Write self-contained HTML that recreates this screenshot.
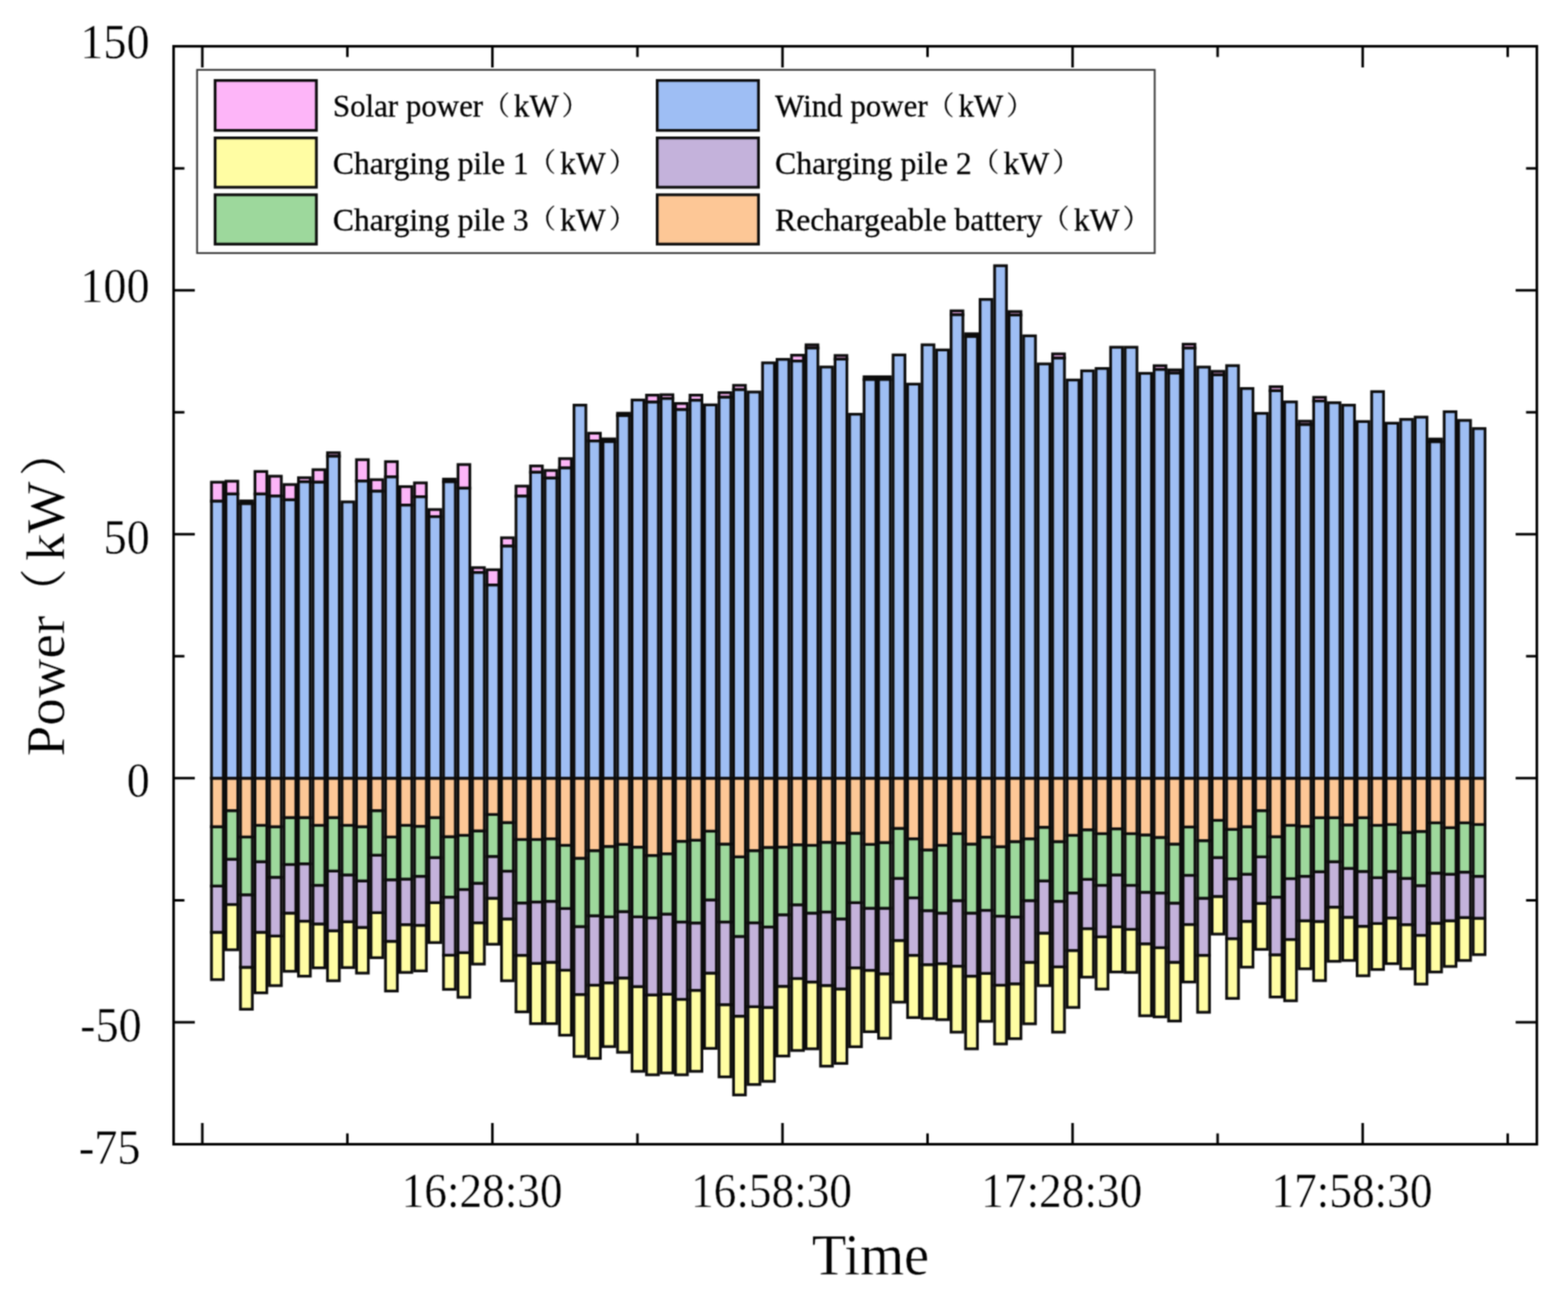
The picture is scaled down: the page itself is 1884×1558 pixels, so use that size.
<!DOCTYPE html>
<html lang="en"><head><meta charset="utf-8"><title>Power chart</title>
<style>html,body{margin:0;padding:0;background:#fff;}body{width:1884px;height:1558px;overflow:hidden;}svg{display:block;}text{font-family:"Liberation Serif","Noto Serif CJK SC",serif;fill:#000;stroke:#fff;stroke-width:0.40px;paint-order:fill stroke;}.tk{font-size:55.5px;}.ti{font-size:66px;}.lg{font-size:37px;stroke:#000;stroke-width:0.30px;}.pn{stroke:#000;stroke-width:0.25px;}.b rect{stroke:#0c0c0c;stroke-width:3.30;}.pk{fill:#fdb5f8}.bl{fill:#9ebef4}.og{fill:#fdc796}.gr{fill:#9dd89c}.pu{fill:#c4b2db}.ye{fill:#fffda3}</style></head><body>
<svg width="1884" height="1558" viewBox="0 0 1884 1558">
<defs><filter id="soft" x="0" y="0" width="1884" height="1558" filterUnits="userSpaceOnUse" color-interpolation-filters="sRGB"><feConvolveMatrix order="5" kernelMatrix="0.00023 0.00332 0.00809 0.00332 0.00023 0.00332 0.04785 0.11640 0.04785 0.00332 0.00809 0.11640 0.28313 0.11640 0.00809 0.00332 0.04785 0.11640 0.04785 0.00332 0.00023 0.00332 0.00809 0.00332 0.00023" divisor="1" edgeMode="duplicate" preserveAlpha="true"/></filter></defs>
<g filter="url(#soft)">
<rect x="0" y="0" width="1884" height="1558" fill="#fff"/>
<g class="b">
<rect class="ye" x="254.07" y="1119.87" width="14.25" height="56.92"/>
<rect class="pu" x="254.07" y="1064.31" width="14.25" height="55.56"/>
<rect class="gr" x="254.07" y="993.07" width="14.25" height="71.24"/>
<rect class="og" x="254.07" y="934.80" width="14.25" height="58.27"/>
<rect class="pk" x="254.07" y="579.21" width="14.25" height="22.88"/>
<rect class="bl" x="254.07" y="602.09" width="14.25" height="332.71"/>
<rect class="ye" x="271.50" y="1086.50" width="14.25" height="54.42"/>
<rect class="pu" x="271.50" y="1032.11" width="14.25" height="54.39"/>
<rect class="gr" x="271.50" y="973.71" width="14.25" height="58.40"/>
<rect class="og" x="271.50" y="934.80" width="14.25" height="38.91"/>
<rect class="pk" x="271.50" y="578.04" width="14.25" height="15.37"/>
<rect class="bl" x="271.50" y="593.41" width="14.25" height="341.39"/>
<rect class="ye" x="288.93" y="1161.91" width="14.25" height="50.41"/>
<rect class="pu" x="288.93" y="1074.82" width="14.25" height="87.09"/>
<rect class="gr" x="288.93" y="1005.41" width="14.25" height="69.41"/>
<rect class="og" x="288.93" y="934.80" width="14.25" height="70.61"/>
<rect class="pk" x="288.93" y="601.74" width="14.25" height="3.30"/>
<rect class="bl" x="288.93" y="605.04" width="14.25" height="329.76"/>
<rect class="ye" x="306.35" y="1119.87" width="14.25" height="72.77"/>
<rect class="pu" x="306.35" y="1035.11" width="14.25" height="84.76"/>
<rect class="gr" x="306.35" y="991.40" width="14.25" height="43.71"/>
<rect class="og" x="306.35" y="934.80" width="14.25" height="56.60"/>
<rect class="pk" x="306.35" y="566.36" width="14.25" height="27.05"/>
<rect class="bl" x="306.35" y="593.41" width="14.25" height="341.39"/>
<rect class="ye" x="323.77" y="1124.37" width="14.25" height="59.59"/>
<rect class="pu" x="323.77" y="1053.80" width="14.25" height="70.57"/>
<rect class="gr" x="323.77" y="993.07" width="14.25" height="60.73"/>
<rect class="og" x="323.77" y="934.80" width="14.25" height="58.27"/>
<rect class="pk" x="323.77" y="572.04" width="14.25" height="23.88"/>
<rect class="bl" x="323.77" y="595.91" width="14.25" height="338.89"/>
<rect class="ye" x="341.20" y="1096.84" width="14.25" height="69.93"/>
<rect class="pu" x="341.20" y="1038.45" width="14.25" height="58.40"/>
<rect class="gr" x="341.20" y="982.06" width="14.25" height="56.39"/>
<rect class="og" x="341.20" y="934.80" width="14.25" height="47.26"/>
<rect class="pk" x="341.20" y="582.05" width="14.25" height="18.37"/>
<rect class="bl" x="341.20" y="600.42" width="14.25" height="334.38"/>
<rect class="ye" x="358.62" y="1106.52" width="14.25" height="66.10"/>
<rect class="pu" x="358.62" y="1037.61" width="14.25" height="68.91"/>
<rect class="gr" x="358.62" y="982.06" width="14.25" height="55.56"/>
<rect class="og" x="358.62" y="934.80" width="14.25" height="47.26"/>
<rect class="pk" x="358.62" y="573.87" width="14.25" height="4.86"/>
<rect class="bl" x="358.62" y="578.73" width="14.25" height="356.07"/>
<rect class="ye" x="376.05" y="1109.86" width="14.25" height="52.75"/>
<rect class="pu" x="376.05" y="1063.48" width="14.25" height="46.38"/>
<rect class="gr" x="376.05" y="991.40" width="14.25" height="72.08"/>
<rect class="og" x="376.05" y="934.80" width="14.25" height="56.60"/>
<rect class="pk" x="376.05" y="564.20" width="14.25" height="15.03"/>
<rect class="bl" x="376.05" y="579.23" width="14.25" height="355.57"/>
<rect class="ye" x="393.48" y="1118.03" width="14.25" height="60.09"/>
<rect class="pu" x="393.48" y="1046.29" width="14.25" height="71.74"/>
<rect class="gr" x="393.48" y="982.06" width="14.25" height="64.23"/>
<rect class="og" x="393.48" y="934.80" width="14.25" height="47.26"/>
<rect class="pk" x="393.48" y="543.84" width="14.25" height="4.19"/>
<rect class="bl" x="393.48" y="548.03" width="14.25" height="386.77"/>
<rect class="ye" x="410.90" y="1107.19" width="14.25" height="55.08"/>
<rect class="pu" x="410.90" y="1050.96" width="14.25" height="56.23"/>
<rect class="gr" x="410.90" y="991.40" width="14.25" height="59.56"/>
<rect class="og" x="410.90" y="934.80" width="14.25" height="56.60"/>
<rect class="bl" x="410.90" y="602.90" width="14.25" height="331.90"/>
<rect class="ye" x="428.32" y="1114.03" width="14.25" height="54.92"/>
<rect class="pu" x="428.32" y="1058.14" width="14.25" height="55.89"/>
<rect class="gr" x="428.32" y="993.07" width="14.25" height="65.07"/>
<rect class="og" x="428.32" y="934.80" width="14.25" height="58.27"/>
<rect class="pk" x="428.32" y="552.18" width="14.25" height="25.71"/>
<rect class="bl" x="428.32" y="577.89" width="14.25" height="356.91"/>
<rect class="ye" x="445.75" y="1096.34" width="14.25" height="54.08"/>
<rect class="pu" x="445.75" y="1027.27" width="14.25" height="69.07"/>
<rect class="gr" x="445.75" y="973.71" width="14.25" height="53.56"/>
<rect class="og" x="445.75" y="934.80" width="14.25" height="38.91"/>
<rect class="pk" x="445.75" y="576.21" width="14.25" height="13.87"/>
<rect class="bl" x="445.75" y="590.07" width="14.25" height="344.73"/>
<rect class="ye" x="463.18" y="1130.71" width="14.25" height="59.76"/>
<rect class="pu" x="463.18" y="1056.80" width="14.25" height="73.91"/>
<rect class="gr" x="463.18" y="1005.41" width="14.25" height="51.39"/>
<rect class="og" x="463.18" y="934.80" width="14.25" height="70.61"/>
<rect class="pk" x="463.18" y="554.52" width="14.25" height="18.37"/>
<rect class="bl" x="463.18" y="572.89" width="14.25" height="361.91"/>
<rect class="ye" x="480.60" y="1110.69" width="14.25" height="57.42"/>
<rect class="pu" x="480.60" y="1055.97" width="14.25" height="54.72"/>
<rect class="gr" x="480.60" y="991.40" width="14.25" height="64.57"/>
<rect class="og" x="480.60" y="934.80" width="14.25" height="56.60"/>
<rect class="pk" x="480.60" y="584.55" width="14.25" height="22.21"/>
<rect class="bl" x="480.60" y="606.76" width="14.25" height="328.04"/>
<rect class="ye" x="498.02" y="1111.53" width="14.25" height="54.75"/>
<rect class="pu" x="498.02" y="1052.63" width="14.25" height="58.90"/>
<rect class="gr" x="498.02" y="992.57" width="14.25" height="60.06"/>
<rect class="og" x="498.02" y="934.80" width="14.25" height="57.77"/>
<rect class="pk" x="498.02" y="580.05" width="14.25" height="16.70"/>
<rect class="bl" x="498.02" y="596.75" width="14.25" height="338.05"/>
<rect class="ye" x="515.45" y="1084.33" width="14.25" height="47.91"/>
<rect class="pu" x="515.45" y="1030.11" width="14.25" height="54.22"/>
<rect class="gr" x="515.45" y="982.06" width="14.25" height="48.05"/>
<rect class="og" x="515.45" y="934.80" width="14.25" height="47.26"/>
<rect class="pk" x="515.45" y="612.08" width="14.25" height="8.53"/>
<rect class="bl" x="515.45" y="620.61" width="14.25" height="314.19"/>
<rect class="ye" x="532.88" y="1147.40" width="14.25" height="41.07"/>
<rect class="pu" x="532.88" y="1077.66" width="14.25" height="69.74"/>
<rect class="gr" x="532.88" y="1005.08" width="14.25" height="72.58"/>
<rect class="og" x="532.88" y="934.80" width="14.25" height="70.28"/>
<rect class="pk" x="532.88" y="575.54" width="14.25" height="3.19"/>
<rect class="bl" x="532.88" y="578.73" width="14.25" height="356.07"/>
<rect class="ye" x="550.30" y="1144.39" width="14.25" height="53.58"/>
<rect class="pu" x="550.30" y="1068.48" width="14.25" height="75.91"/>
<rect class="gr" x="550.30" y="1003.41" width="14.25" height="65.07"/>
<rect class="og" x="550.30" y="934.80" width="14.25" height="68.61"/>
<rect class="pk" x="550.30" y="558.02" width="14.25" height="28.38"/>
<rect class="bl" x="550.30" y="586.40" width="14.25" height="348.40"/>
<rect class="ye" x="567.73" y="1108.52" width="14.25" height="49.58"/>
<rect class="pu" x="567.73" y="1060.97" width="14.25" height="47.55"/>
<rect class="gr" x="567.73" y="998.07" width="14.25" height="62.90"/>
<rect class="og" x="567.73" y="934.80" width="14.25" height="63.27"/>
<rect class="pk" x="567.73" y="681.88" width="14.25" height="5.86"/>
<rect class="bl" x="567.73" y="687.74" width="14.25" height="247.06"/>
<rect class="ye" x="585.15" y="1078.99" width="14.25" height="55.25"/>
<rect class="pu" x="585.15" y="1028.77" width="14.25" height="50.22"/>
<rect class="gr" x="585.15" y="978.38" width="14.25" height="50.39"/>
<rect class="og" x="585.15" y="934.80" width="14.25" height="43.58"/>
<rect class="pk" x="585.15" y="684.39" width="14.25" height="18.37"/>
<rect class="bl" x="585.15" y="702.76" width="14.25" height="232.04"/>
<rect class="ye" x="602.58" y="1103.86" width="14.25" height="74.26"/>
<rect class="pu" x="602.58" y="1046.46" width="14.25" height="57.40"/>
<rect class="gr" x="602.58" y="988.06" width="14.25" height="58.40"/>
<rect class="og" x="602.58" y="934.80" width="14.25" height="53.26"/>
<rect class="pk" x="602.58" y="646.01" width="14.25" height="10.03"/>
<rect class="bl" x="602.58" y="656.04" width="14.25" height="278.76"/>
<rect class="ye" x="620.00" y="1147.57" width="14.25" height="67.92"/>
<rect class="pu" x="620.00" y="1084.66" width="14.25" height="62.91"/>
<rect class="gr" x="620.00" y="1008.42" width="14.25" height="76.25"/>
<rect class="og" x="620.00" y="934.80" width="14.25" height="73.62"/>
<rect class="pk" x="620.00" y="583.95" width="14.25" height="12.03"/>
<rect class="bl" x="620.00" y="595.98" width="14.25" height="338.82"/>
<rect class="ye" x="637.42" y="1157.25" width="14.25" height="72.43"/>
<rect class="pu" x="637.42" y="1083.50" width="14.25" height="73.75"/>
<rect class="gr" x="637.42" y="1008.42" width="14.25" height="75.08"/>
<rect class="og" x="637.42" y="934.80" width="14.25" height="73.62"/>
<rect class="pk" x="637.42" y="559.75" width="14.25" height="7.53"/>
<rect class="bl" x="637.42" y="567.28" width="14.25" height="367.52"/>
<rect class="ye" x="654.85" y="1155.91" width="14.25" height="73.76"/>
<rect class="pu" x="654.85" y="1082.66" width="14.25" height="73.25"/>
<rect class="gr" x="654.85" y="1007.58" width="14.25" height="75.08"/>
<rect class="og" x="654.85" y="934.80" width="14.25" height="72.78"/>
<rect class="pk" x="654.85" y="565.09" width="14.25" height="9.19"/>
<rect class="bl" x="654.85" y="574.29" width="14.25" height="360.51"/>
<rect class="ye" x="672.28" y="1165.42" width="14.25" height="78.10"/>
<rect class="pu" x="672.28" y="1091.34" width="14.25" height="74.09"/>
<rect class="gr" x="672.28" y="1015.42" width="14.25" height="75.91"/>
<rect class="og" x="672.28" y="934.80" width="14.25" height="80.62"/>
<rect class="pk" x="672.28" y="550.91" width="14.25" height="11.20"/>
<rect class="bl" x="672.28" y="562.11" width="14.25" height="372.69"/>
<rect class="ye" x="689.70" y="1194.62" width="14.25" height="74.43"/>
<rect class="pu" x="689.70" y="1113.04" width="14.25" height="81.59"/>
<rect class="gr" x="689.70" y="1030.94" width="14.25" height="82.09"/>
<rect class="og" x="689.70" y="934.80" width="14.25" height="96.14"/>
<rect class="bl" x="689.70" y="486.68" width="14.25" height="448.12"/>
<rect class="ye" x="707.12" y="1183.44" width="14.25" height="87.95"/>
<rect class="pu" x="707.12" y="1100.02" width="14.25" height="83.42"/>
<rect class="gr" x="707.12" y="1021.76" width="14.25" height="78.26"/>
<rect class="og" x="707.12" y="934.80" width="14.25" height="86.96"/>
<rect class="pk" x="707.12" y="520.38" width="14.25" height="9.36"/>
<rect class="bl" x="707.12" y="529.74" width="14.25" height="405.06"/>
<rect class="ye" x="724.55" y="1180.61" width="14.25" height="76.60"/>
<rect class="pu" x="724.55" y="1101.36" width="14.25" height="79.25"/>
<rect class="gr" x="724.55" y="1016.76" width="14.25" height="84.60"/>
<rect class="og" x="724.55" y="934.80" width="14.25" height="81.96"/>
<rect class="pk" x="724.55" y="527.22" width="14.25" height="3.30"/>
<rect class="bl" x="724.55" y="530.52" width="14.25" height="404.28"/>
<rect class="ye" x="741.98" y="1174.77" width="14.25" height="89.28"/>
<rect class="pu" x="741.98" y="1095.02" width="14.25" height="79.75"/>
<rect class="gr" x="741.98" y="1014.26" width="14.25" height="80.76"/>
<rect class="og" x="741.98" y="934.80" width="14.25" height="79.46"/>
<rect class="pk" x="741.98" y="496.35" width="14.25" height="2.85"/>
<rect class="bl" x="741.98" y="499.21" width="14.25" height="435.59"/>
<rect class="ye" x="759.40" y="1185.11" width="14.25" height="101.79"/>
<rect class="pu" x="759.40" y="1101.36" width="14.25" height="83.76"/>
<rect class="gr" x="759.40" y="1017.59" width="14.25" height="83.76"/>
<rect class="og" x="759.40" y="934.80" width="14.25" height="82.79"/>
<rect class="bl" x="759.40" y="480.50" width="14.25" height="454.30"/>
<rect class="ye" x="776.83" y="1195.12" width="14.25" height="95.95"/>
<rect class="pu" x="776.83" y="1102.52" width="14.25" height="92.60"/>
<rect class="gr" x="776.83" y="1027.60" width="14.25" height="74.92"/>
<rect class="og" x="776.83" y="934.80" width="14.25" height="92.80"/>
<rect class="pk" x="776.83" y="474.66" width="14.25" height="8.36"/>
<rect class="bl" x="776.83" y="483.02" width="14.25" height="451.78"/>
<rect class="ye" x="794.25" y="1194.29" width="14.25" height="94.62"/>
<rect class="pu" x="794.25" y="1098.02" width="14.25" height="96.27"/>
<rect class="gr" x="794.25" y="1025.60" width="14.25" height="72.42"/>
<rect class="og" x="794.25" y="934.80" width="14.25" height="90.80"/>
<rect class="pk" x="794.25" y="474.16" width="14.25" height="4.52"/>
<rect class="bl" x="794.25" y="478.69" width="14.25" height="456.11"/>
<rect class="ye" x="811.67" y="1200.46" width="14.25" height="90.61"/>
<rect class="pu" x="811.67" y="1107.53" width="14.25" height="92.93"/>
<rect class="gr" x="811.67" y="1010.59" width="14.25" height="96.94"/>
<rect class="og" x="811.67" y="934.80" width="14.25" height="75.79"/>
<rect class="pk" x="811.67" y="484.67" width="14.25" height="7.36"/>
<rect class="bl" x="811.67" y="492.03" width="14.25" height="442.77"/>
<rect class="ye" x="829.10" y="1189.62" width="14.25" height="97.29"/>
<rect class="pu" x="829.10" y="1108.70" width="14.25" height="80.92"/>
<rect class="gr" x="829.10" y="1009.25" width="14.25" height="99.45"/>
<rect class="og" x="829.10" y="934.80" width="14.25" height="74.45"/>
<rect class="pk" x="829.10" y="474.66" width="14.25" height="6.19"/>
<rect class="bl" x="829.10" y="480.86" width="14.25" height="453.94"/>
<rect class="ye" x="846.53" y="1168.93" width="14.25" height="90.45"/>
<rect class="pu" x="846.53" y="1080.99" width="14.25" height="87.93"/>
<rect class="gr" x="846.53" y="998.41" width="14.25" height="82.59"/>
<rect class="og" x="846.53" y="934.80" width="14.25" height="63.61"/>
<rect class="bl" x="846.53" y="486.34" width="14.25" height="448.46"/>
<rect class="ye" x="863.95" y="1206.80" width="14.25" height="86.78"/>
<rect class="pu" x="863.95" y="1107.53" width="14.25" height="99.27"/>
<rect class="gr" x="863.95" y="1013.92" width="14.25" height="93.61"/>
<rect class="og" x="863.95" y="934.80" width="14.25" height="79.12"/>
<rect class="pk" x="863.95" y="471.66" width="14.25" height="5.52"/>
<rect class="bl" x="863.95" y="477.18" width="14.25" height="457.62"/>
<rect class="ye" x="881.38" y="1220.65" width="14.25" height="94.62"/>
<rect class="pu" x="881.38" y="1124.87" width="14.25" height="95.78"/>
<rect class="gr" x="881.38" y="1029.27" width="14.25" height="95.60"/>
<rect class="og" x="881.38" y="934.80" width="14.25" height="94.47"/>
<rect class="pk" x="881.38" y="462.90" width="14.25" height="5.19"/>
<rect class="bl" x="881.38" y="468.09" width="14.25" height="466.71"/>
<rect class="ye" x="898.80" y="1209.30" width="14.25" height="93.45"/>
<rect class="pu" x="898.80" y="1108.52" width="14.25" height="100.78"/>
<rect class="gr" x="898.80" y="1021.76" width="14.25" height="86.76"/>
<rect class="og" x="898.80" y="934.80" width="14.25" height="86.96"/>
<rect class="bl" x="898.80" y="470.91" width="14.25" height="463.89"/>
<rect class="ye" x="916.22" y="1210.14" width="14.25" height="88.78"/>
<rect class="pu" x="916.22" y="1113.53" width="14.25" height="96.61"/>
<rect class="gr" x="916.22" y="1017.93" width="14.25" height="95.60"/>
<rect class="og" x="916.22" y="934.80" width="14.25" height="83.13"/>
<rect class="bl" x="916.22" y="435.87" width="14.25" height="498.93"/>
<rect class="ye" x="933.65" y="1184.78" width="14.25" height="83.77"/>
<rect class="pu" x="933.65" y="1098.85" width="14.25" height="85.93"/>
<rect class="gr" x="933.65" y="1017.59" width="14.25" height="81.25"/>
<rect class="og" x="933.65" y="934.80" width="14.25" height="82.79"/>
<rect class="bl" x="933.65" y="431.70" width="14.25" height="503.10"/>
<rect class="ye" x="951.08" y="1175.43" width="14.25" height="86.44"/>
<rect class="pu" x="951.08" y="1086.83" width="14.25" height="88.60"/>
<rect class="gr" x="951.08" y="1014.76" width="14.25" height="72.08"/>
<rect class="og" x="951.08" y="934.80" width="14.25" height="79.96"/>
<rect class="pk" x="951.08" y="426.70" width="14.25" height="7.03"/>
<rect class="bl" x="951.08" y="433.72" width="14.25" height="501.08"/>
<rect class="ye" x="968.50" y="1179.61" width="14.25" height="80.27"/>
<rect class="pu" x="968.50" y="1096.84" width="14.25" height="82.76"/>
<rect class="gr" x="968.50" y="1015.42" width="14.25" height="81.42"/>
<rect class="og" x="968.50" y="934.80" width="14.25" height="80.62"/>
<rect class="pk" x="968.50" y="414.18" width="14.25" height="3.86"/>
<rect class="bl" x="968.50" y="418.04" width="14.25" height="516.76"/>
<rect class="ye" x="985.92" y="1183.78" width="14.25" height="96.95"/>
<rect class="pu" x="985.92" y="1095.51" width="14.25" height="88.27"/>
<rect class="gr" x="985.92" y="1011.75" width="14.25" height="83.76"/>
<rect class="og" x="985.92" y="934.80" width="14.25" height="76.95"/>
<rect class="bl" x="985.92" y="440.88" width="14.25" height="493.92"/>
<rect class="ye" x="1003.35" y="1187.95" width="14.25" height="89.45"/>
<rect class="pu" x="1003.35" y="1103.85" width="14.25" height="84.10"/>
<rect class="gr" x="1003.35" y="1012.59" width="14.25" height="91.26"/>
<rect class="og" x="1003.35" y="934.80" width="14.25" height="77.79"/>
<rect class="pk" x="1003.35" y="427.03" width="14.25" height="4.36"/>
<rect class="bl" x="1003.35" y="431.39" width="14.25" height="503.41"/>
<rect class="ye" x="1020.78" y="1162.59" width="14.25" height="94.79"/>
<rect class="pu" x="1020.78" y="1084.33" width="14.25" height="78.26"/>
<rect class="gr" x="1020.78" y="1000.91" width="14.25" height="83.42"/>
<rect class="og" x="1020.78" y="934.80" width="14.25" height="66.11"/>
<rect class="bl" x="1020.78" y="497.61" width="14.25" height="437.19"/>
<rect class="ye" x="1038.20" y="1165.59" width="14.25" height="73.76"/>
<rect class="pu" x="1038.20" y="1091.00" width="14.25" height="74.59"/>
<rect class="gr" x="1038.20" y="1014.26" width="14.25" height="76.75"/>
<rect class="og" x="1038.20" y="934.80" width="14.25" height="79.46"/>
<rect class="pk" x="1038.20" y="452.56" width="14.25" height="3.36"/>
<rect class="bl" x="1038.20" y="455.91" width="14.25" height="478.89"/>
<rect class="ye" x="1055.62" y="1169.76" width="14.25" height="77.43"/>
<rect class="pu" x="1055.62" y="1091.00" width="14.25" height="78.76"/>
<rect class="gr" x="1055.62" y="1012.09" width="14.25" height="78.92"/>
<rect class="og" x="1055.62" y="934.80" width="14.25" height="77.29"/>
<rect class="pk" x="1055.62" y="452.56" width="14.25" height="3.30"/>
<rect class="bl" x="1055.62" y="455.86" width="14.25" height="478.94"/>
<rect class="ye" x="1073.05" y="1129.72" width="14.25" height="74.10"/>
<rect class="pu" x="1073.05" y="1055.13" width="14.25" height="74.59"/>
<rect class="gr" x="1073.05" y="995.07" width="14.25" height="60.06"/>
<rect class="og" x="1073.05" y="934.80" width="14.25" height="60.27"/>
<rect class="bl" x="1073.05" y="426.36" width="14.25" height="508.44"/>
<rect class="ye" x="1090.48" y="1147.57" width="14.25" height="74.76"/>
<rect class="pu" x="1090.48" y="1078.49" width="14.25" height="69.08"/>
<rect class="gr" x="1090.48" y="1007.58" width="14.25" height="70.91"/>
<rect class="og" x="1090.48" y="934.80" width="14.25" height="72.78"/>
<rect class="bl" x="1090.48" y="461.40" width="14.25" height="473.40"/>
<rect class="ye" x="1107.90" y="1158.75" width="14.25" height="64.75"/>
<rect class="pu" x="1107.90" y="1093.84" width="14.25" height="64.91"/>
<rect class="gr" x="1107.90" y="1020.93" width="14.25" height="72.91"/>
<rect class="og" x="1107.90" y="934.80" width="14.25" height="86.13"/>
<rect class="bl" x="1107.90" y="414.18" width="14.25" height="520.62"/>
<rect class="ye" x="1125.33" y="1157.58" width="14.25" height="67.26"/>
<rect class="pu" x="1125.33" y="1096.84" width="14.25" height="60.74"/>
<rect class="gr" x="1125.33" y="1015.42" width="14.25" height="81.42"/>
<rect class="og" x="1125.33" y="934.80" width="14.25" height="80.62"/>
<rect class="bl" x="1125.33" y="420.36" width="14.25" height="514.44"/>
<rect class="ye" x="1142.75" y="1160.59" width="14.25" height="79.27"/>
<rect class="pu" x="1142.75" y="1081.83" width="14.25" height="78.76"/>
<rect class="gr" x="1142.75" y="1001.41" width="14.25" height="80.42"/>
<rect class="og" x="1142.75" y="934.80" width="14.25" height="66.61"/>
<rect class="pk" x="1142.75" y="373.39" width="14.25" height="4.69"/>
<rect class="bl" x="1142.75" y="378.08" width="14.25" height="556.72"/>
<rect class="ye" x="1160.17" y="1172.60" width="14.25" height="87.28"/>
<rect class="pu" x="1160.17" y="1096.84" width="14.25" height="75.75"/>
<rect class="gr" x="1160.17" y="1013.92" width="14.25" height="82.92"/>
<rect class="og" x="1160.17" y="934.80" width="14.25" height="79.12"/>
<rect class="pk" x="1160.17" y="400.92" width="14.25" height="3.30"/>
<rect class="bl" x="1160.17" y="404.22" width="14.25" height="530.58"/>
<rect class="ye" x="1177.60" y="1169.26" width="14.25" height="57.58"/>
<rect class="pu" x="1177.60" y="1093.51" width="14.25" height="75.75"/>
<rect class="gr" x="1177.60" y="1005.58" width="14.25" height="87.93"/>
<rect class="og" x="1177.60" y="934.80" width="14.25" height="70.78"/>
<rect class="bl" x="1177.60" y="359.71" width="14.25" height="575.09"/>
<rect class="ye" x="1195.03" y="1183.44" width="14.25" height="70.59"/>
<rect class="pu" x="1195.03" y="1100.51" width="14.25" height="82.93"/>
<rect class="gr" x="1195.03" y="1017.09" width="14.25" height="83.42"/>
<rect class="og" x="1195.03" y="934.80" width="14.25" height="82.29"/>
<rect class="bl" x="1195.03" y="319.17" width="14.25" height="615.63"/>
<rect class="ye" x="1212.45" y="1181.77" width="14.25" height="65.92"/>
<rect class="pu" x="1212.45" y="1101.52" width="14.25" height="80.26"/>
<rect class="gr" x="1212.45" y="1010.92" width="14.25" height="90.60"/>
<rect class="og" x="1212.45" y="934.80" width="14.25" height="76.12"/>
<rect class="pk" x="1212.45" y="374.23" width="14.25" height="4.19"/>
<rect class="bl" x="1212.45" y="378.42" width="14.25" height="556.38"/>
<rect class="ye" x="1229.88" y="1155.91" width="14.25" height="73.93"/>
<rect class="pu" x="1229.88" y="1081.83" width="14.25" height="74.09"/>
<rect class="gr" x="1229.88" y="1007.58" width="14.25" height="74.25"/>
<rect class="og" x="1229.88" y="934.80" width="14.25" height="72.78"/>
<rect class="bl" x="1229.88" y="403.42" width="14.25" height="531.38"/>
<rect class="ye" x="1247.30" y="1120.88" width="14.25" height="63.09"/>
<rect class="pu" x="1247.30" y="1058.14" width="14.25" height="62.74"/>
<rect class="gr" x="1247.30" y="993.73" width="14.25" height="64.40"/>
<rect class="og" x="1247.30" y="934.80" width="14.25" height="58.93"/>
<rect class="bl" x="1247.30" y="437.13" width="14.25" height="497.67"/>
<rect class="ye" x="1264.73" y="1161.42" width="14.25" height="78.44"/>
<rect class="pu" x="1264.73" y="1082.66" width="14.25" height="78.76"/>
<rect class="gr" x="1264.73" y="1010.92" width="14.25" height="71.74"/>
<rect class="og" x="1264.73" y="934.80" width="14.25" height="76.12"/>
<rect class="pk" x="1264.73" y="425.11" width="14.25" height="5.02"/>
<rect class="bl" x="1264.73" y="430.14" width="14.25" height="504.66"/>
<rect class="ye" x="1282.15" y="1141.73" width="14.25" height="68.42"/>
<rect class="pu" x="1282.15" y="1072.65" width="14.25" height="69.08"/>
<rect class="gr" x="1282.15" y="1003.41" width="14.25" height="69.24"/>
<rect class="og" x="1282.15" y="934.80" width="14.25" height="68.61"/>
<rect class="bl" x="1282.15" y="456.48" width="14.25" height="478.32"/>
<rect class="ye" x="1299.58" y="1115.54" width="14.25" height="58.25"/>
<rect class="pu" x="1299.58" y="1056.30" width="14.25" height="59.24"/>
<rect class="gr" x="1299.58" y="996.74" width="14.25" height="59.56"/>
<rect class="og" x="1299.58" y="934.80" width="14.25" height="61.94"/>
<rect class="bl" x="1299.58" y="445.47" width="14.25" height="489.33"/>
<rect class="ye" x="1317.00" y="1125.38" width="14.25" height="62.75"/>
<rect class="pu" x="1317.00" y="1063.48" width="14.25" height="61.91"/>
<rect class="gr" x="1317.00" y="1001.41" width="14.25" height="62.07"/>
<rect class="og" x="1317.00" y="934.80" width="14.25" height="66.61"/>
<rect class="bl" x="1317.00" y="442.63" width="14.25" height="492.17"/>
<rect class="ye" x="1334.43" y="1113.37" width="14.25" height="54.24"/>
<rect class="pu" x="1334.43" y="1050.96" width="14.25" height="62.41"/>
<rect class="gr" x="1334.43" y="995.57" width="14.25" height="55.39"/>
<rect class="og" x="1334.43" y="934.80" width="14.25" height="60.77"/>
<rect class="bl" x="1334.43" y="417.11" width="14.25" height="517.69"/>
<rect class="ye" x="1351.85" y="1116.37" width="14.25" height="51.74"/>
<rect class="pu" x="1351.85" y="1063.48" width="14.25" height="52.90"/>
<rect class="gr" x="1351.85" y="1001.41" width="14.25" height="62.07"/>
<rect class="og" x="1351.85" y="934.80" width="14.25" height="66.61"/>
<rect class="bl" x="1351.85" y="417.11" width="14.25" height="517.69"/>
<rect class="ye" x="1369.28" y="1133.72" width="14.25" height="86.44"/>
<rect class="pu" x="1369.28" y="1071.82" width="14.25" height="61.91"/>
<rect class="gr" x="1369.28" y="1002.91" width="14.25" height="68.91"/>
<rect class="og" x="1369.28" y="934.80" width="14.25" height="68.11"/>
<rect class="bl" x="1369.28" y="448.47" width="14.25" height="486.33"/>
<rect class="ye" x="1386.70" y="1138.40" width="14.25" height="83.11"/>
<rect class="pu" x="1386.70" y="1072.65" width="14.25" height="65.74"/>
<rect class="gr" x="1386.70" y="1005.91" width="14.25" height="66.74"/>
<rect class="og" x="1386.70" y="934.80" width="14.25" height="71.11"/>
<rect class="pk" x="1386.70" y="439.30" width="14.25" height="4.52"/>
<rect class="bl" x="1386.70" y="443.82" width="14.25" height="490.98"/>
<rect class="ye" x="1404.12" y="1155.91" width="14.25" height="70.59"/>
<rect class="pu" x="1404.12" y="1084.83" width="14.25" height="71.08"/>
<rect class="gr" x="1404.12" y="1013.92" width="14.25" height="70.91"/>
<rect class="og" x="1404.12" y="934.80" width="14.25" height="79.12"/>
<rect class="pk" x="1404.12" y="444.30" width="14.25" height="3.86"/>
<rect class="bl" x="1404.12" y="448.16" width="14.25" height="486.64"/>
<rect class="ye" x="1421.55" y="1110.53" width="14.25" height="69.09"/>
<rect class="pu" x="1421.55" y="1051.46" width="14.25" height="59.07"/>
<rect class="gr" x="1421.55" y="993.40" width="14.25" height="58.06"/>
<rect class="og" x="1421.55" y="934.80" width="14.25" height="58.60"/>
<rect class="pk" x="1421.55" y="413.44" width="14.25" height="4.69"/>
<rect class="bl" x="1421.55" y="418.13" width="14.25" height="516.67"/>
<rect class="ye" x="1438.98" y="1147.57" width="14.25" height="68.42"/>
<rect class="pu" x="1438.98" y="1078.99" width="14.25" height="68.58"/>
<rect class="gr" x="1438.98" y="1009.75" width="14.25" height="69.24"/>
<rect class="og" x="1438.98" y="934.80" width="14.25" height="74.95"/>
<rect class="bl" x="1438.98" y="440.96" width="14.25" height="493.84"/>
<rect class="ye" x="1456.40" y="1076.82" width="14.25" height="45.24"/>
<rect class="pu" x="1456.40" y="1030.11" width="14.25" height="46.72"/>
<rect class="gr" x="1456.40" y="985.39" width="14.25" height="44.71"/>
<rect class="og" x="1456.40" y="934.80" width="14.25" height="50.59"/>
<rect class="pk" x="1456.40" y="446.07" width="14.25" height="4.24"/>
<rect class="bl" x="1456.40" y="450.31" width="14.25" height="484.49"/>
<rect class="ye" x="1473.83" y="1127.55" width="14.25" height="71.76"/>
<rect class="pu" x="1473.83" y="1055.63" width="14.25" height="71.92"/>
<rect class="gr" x="1473.83" y="996.24" width="14.25" height="59.40"/>
<rect class="og" x="1473.83" y="934.80" width="14.25" height="61.44"/>
<rect class="bl" x="1473.83" y="439.19" width="14.25" height="495.61"/>
<rect class="ye" x="1491.25" y="1106.70" width="14.25" height="55.08"/>
<rect class="pu" x="1491.25" y="1050.13" width="14.25" height="56.57"/>
<rect class="gr" x="1491.25" y="993.07" width="14.25" height="57.06"/>
<rect class="og" x="1491.25" y="934.80" width="14.25" height="58.27"/>
<rect class="bl" x="1491.25" y="466.69" width="14.25" height="468.11"/>
<rect class="ye" x="1508.68" y="1085.16" width="14.25" height="55.25"/>
<rect class="pu" x="1508.68" y="1029.27" width="14.25" height="55.89"/>
<rect class="gr" x="1508.68" y="973.71" width="14.25" height="55.56"/>
<rect class="og" x="1508.68" y="934.80" width="14.25" height="38.91"/>
<rect class="bl" x="1508.68" y="496.54" width="14.25" height="438.26"/>
<rect class="ye" x="1526.10" y="1146.90" width="14.25" height="50.75"/>
<rect class="pu" x="1526.10" y="1077.66" width="14.25" height="69.24"/>
<rect class="gr" x="1526.10" y="1005.08" width="14.25" height="72.58"/>
<rect class="og" x="1526.10" y="934.80" width="14.25" height="70.28"/>
<rect class="pk" x="1526.10" y="464.53" width="14.25" height="4.83"/>
<rect class="bl" x="1526.10" y="469.36" width="14.25" height="465.44"/>
<rect class="ye" x="1543.53" y="1128.54" width="14.25" height="73.60"/>
<rect class="pu" x="1543.53" y="1055.47" width="14.25" height="73.08"/>
<rect class="gr" x="1543.53" y="991.40" width="14.25" height="64.07"/>
<rect class="og" x="1543.53" y="934.80" width="14.25" height="56.60"/>
<rect class="bl" x="1543.53" y="482.79" width="14.25" height="452.01"/>
<rect class="ye" x="1560.95" y="1106.02" width="14.25" height="57.75"/>
<rect class="pu" x="1560.95" y="1052.63" width="14.25" height="53.39"/>
<rect class="gr" x="1560.95" y="992.57" width="14.25" height="60.06"/>
<rect class="og" x="1560.95" y="934.80" width="14.25" height="57.77"/>
<rect class="pk" x="1560.95" y="505.97" width="14.25" height="4.05"/>
<rect class="bl" x="1560.95" y="510.01" width="14.25" height="424.79"/>
<rect class="ye" x="1578.38" y="1106.85" width="14.25" height="71.10"/>
<rect class="pu" x="1578.38" y="1047.12" width="14.25" height="59.73"/>
<rect class="gr" x="1578.38" y="982.22" width="14.25" height="64.90"/>
<rect class="og" x="1578.38" y="934.80" width="14.25" height="47.42"/>
<rect class="pk" x="1578.38" y="477.29" width="14.25" height="4.44"/>
<rect class="bl" x="1578.38" y="481.73" width="14.25" height="453.07"/>
<rect class="ye" x="1595.80" y="1089.67" width="14.25" height="65.09"/>
<rect class="pu" x="1595.80" y="1035.11" width="14.25" height="54.56"/>
<rect class="gr" x="1595.80" y="982.22" width="14.25" height="52.89"/>
<rect class="og" x="1595.80" y="934.80" width="14.25" height="47.42"/>
<rect class="bl" x="1595.80" y="483.77" width="14.25" height="451.03"/>
<rect class="ye" x="1613.23" y="1101.85" width="14.25" height="51.91"/>
<rect class="pu" x="1613.23" y="1043.12" width="14.25" height="58.73"/>
<rect class="gr" x="1613.23" y="990.90" width="14.25" height="52.22"/>
<rect class="og" x="1613.23" y="934.80" width="14.25" height="56.10"/>
<rect class="bl" x="1613.23" y="486.72" width="14.25" height="448.08"/>
<rect class="ye" x="1630.65" y="1112.69" width="14.25" height="59.42"/>
<rect class="pu" x="1630.65" y="1046.79" width="14.25" height="65.90"/>
<rect class="gr" x="1630.65" y="982.22" width="14.25" height="64.57"/>
<rect class="og" x="1630.65" y="934.80" width="14.25" height="47.42"/>
<rect class="bl" x="1630.65" y="506.36" width="14.25" height="428.44"/>
<rect class="ye" x="1648.08" y="1109.36" width="14.25" height="55.25"/>
<rect class="pu" x="1648.08" y="1054.30" width="14.25" height="55.06"/>
<rect class="gr" x="1648.08" y="991.40" width="14.25" height="62.90"/>
<rect class="og" x="1648.08" y="934.80" width="14.25" height="56.60"/>
<rect class="bl" x="1648.08" y="470.42" width="14.25" height="464.38"/>
<rect class="ye" x="1665.50" y="1102.68" width="14.25" height="54.92"/>
<rect class="pu" x="1665.50" y="1046.79" width="14.25" height="55.89"/>
<rect class="gr" x="1665.50" y="990.40" width="14.25" height="56.39"/>
<rect class="og" x="1665.50" y="934.80" width="14.25" height="55.60"/>
<rect class="bl" x="1665.50" y="508.32" width="14.25" height="426.48"/>
<rect class="ye" x="1682.93" y="1110.69" width="14.25" height="53.08"/>
<rect class="pu" x="1682.93" y="1055.13" width="14.25" height="55.56"/>
<rect class="gr" x="1682.93" y="1000.07" width="14.25" height="55.06"/>
<rect class="og" x="1682.93" y="934.80" width="14.25" height="65.27"/>
<rect class="bl" x="1682.93" y="503.80" width="14.25" height="431.00"/>
<rect class="ye" x="1700.35" y="1123.54" width="14.25" height="58.59"/>
<rect class="pu" x="1700.35" y="1063.81" width="14.25" height="59.73"/>
<rect class="gr" x="1700.35" y="998.74" width="14.25" height="65.07"/>
<rect class="og" x="1700.35" y="934.80" width="14.25" height="63.94"/>
<rect class="bl" x="1700.35" y="501.06" width="14.25" height="433.74"/>
<rect class="ye" x="1717.78" y="1109.02" width="14.25" height="58.59"/>
<rect class="pu" x="1717.78" y="1048.79" width="14.25" height="60.23"/>
<rect class="gr" x="1717.78" y="988.40" width="14.25" height="60.40"/>
<rect class="og" x="1717.78" y="934.80" width="14.25" height="53.60"/>
<rect class="pk" x="1717.78" y="527.37" width="14.25" height="3.30"/>
<rect class="bl" x="1717.78" y="530.67" width="14.25" height="404.13"/>
<rect class="ye" x="1735.20" y="1106.02" width="14.25" height="54.92"/>
<rect class="pu" x="1735.20" y="1050.13" width="14.25" height="55.89"/>
<rect class="gr" x="1735.20" y="994.23" width="14.25" height="55.89"/>
<rect class="og" x="1735.20" y="934.80" width="14.25" height="59.43"/>
<rect class="bl" x="1735.20" y="494.57" width="14.25" height="440.23"/>
<rect class="ye" x="1752.62" y="1102.18" width="14.25" height="51.58"/>
<rect class="pu" x="1752.62" y="1047.62" width="14.25" height="54.56"/>
<rect class="gr" x="1752.62" y="988.40" width="14.25" height="59.23"/>
<rect class="og" x="1752.62" y="934.80" width="14.25" height="53.60"/>
<rect class="bl" x="1752.62" y="504.98" width="14.25" height="429.82"/>
<rect class="ye" x="1770.05" y="1103.02" width="14.25" height="43.74"/>
<rect class="pu" x="1770.05" y="1052.63" width="14.25" height="50.39"/>
<rect class="gr" x="1770.05" y="990.40" width="14.25" height="62.23"/>
<rect class="og" x="1770.05" y="934.80" width="14.25" height="55.60"/>
<rect class="bl" x="1770.05" y="514.80" width="14.25" height="420.00"/>
</g>
<g fill="none" stroke="#000" stroke-width="3.00">
<rect x="208.60" y="55.60" width="1638.00" height="1318.90" stroke-width="3.10"/>
<path d="M243.10 1374.50v-25.50M243.10 55.60v25.50M591.65 1374.50v-25.50M591.65 55.60v25.50M940.20 1374.50v-25.50M940.20 55.60v25.50M1288.75 1374.50v-25.50M1288.75 55.60v25.50M1637.30 1374.50v-25.50M1637.30 55.60v25.50M417.38 1374.50v-13.00M417.38 55.60v13.00M765.93 1374.50v-13.00M765.93 55.60v13.00M1114.47 1374.50v-13.00M1114.47 55.60v13.00M1463.02 1374.50v-13.00M1463.02 55.60v13.00M1811.58 1374.50v-13.00M1811.58 55.60v13.00M208.60 348.69h25.50M1846.60 348.69h-25.50M208.60 641.78h25.50M1846.60 641.78h-25.50M208.60 934.87h25.50M1846.60 934.87h-25.50M208.60 1227.96h25.50M1846.60 1227.96h-25.50M208.60 202.14h13.00M1846.60 202.14h-13.00M208.60 495.23h13.00M1846.60 495.23h-13.00M208.60 788.32h13.00M1846.60 788.32h-13.00M208.60 1081.41h13.00M1846.60 1081.41h-13.00"/>
</g>
<text class="tk" transform="translate(179.80 70.00) scale(1.0000 1.0500)" text-anchor="end">150</text>
<text class="tk" transform="translate(179.80 363.00) scale(1.0000 1.0500)" text-anchor="end">100</text>
<text class="tk" transform="translate(180.00 664.70) scale(1.0000 1.0500)" text-anchor="end">50</text>
<text class="tk" transform="translate(180.00 957.40) scale(1.0000 1.0500)" text-anchor="end">0</text>
<text class="tk" transform="translate(170.20 1251.20) scale(1.0000 1.0500)" text-anchor="end">-50</text>
<text class="tk" transform="translate(168.80 1398.30) scale(1.0000 1.0500)" text-anchor="end">-75</text>
<text class="tk" transform="translate(579.20 1449.90) scale(0.9800 1.0500)" text-anchor="middle">16:28:30</text>
<text class="tk" transform="translate(927.00 1449.90) scale(0.9800 1.0500)" text-anchor="middle">16:58:30</text>
<text class="tk" transform="translate(1275.70 1449.90) scale(0.9800 1.0500)" text-anchor="middle">17:28:30</text>
<text class="tk" transform="translate(1624.40 1449.90) scale(0.9800 1.0500)" text-anchor="middle">17:58:30</text>
<text class="ti" transform="translate(975.50 1531.10) scale(1.0280 1.0450)">Time</text>
<text class="ti" transform="translate(76.50 908.40) rotate(-90)">Power<tspan class="pn" font-size="56.76" dy="-3.63">（</tspan><tspan dx="9.24" dy="3.63">kW</tspan><tspan class="pn" font-size="56.76" dx="6.60" dy="-3.63">）</tspan></text>
<rect x="236.80" y="83.90" width="1150.60" height="220.10" fill="#fff" stroke="#3c3c3c" stroke-width="2.20"/>
<g class="b">
<rect class="pk" style="stroke-width:3.30" x="258.45" y="96.65" width="121.70" height="60.00"/>
<rect class="ye" style="stroke-width:3.30" x="258.45" y="165.65" width="121.70" height="59.30"/>
<rect class="gr" style="stroke-width:3.30" x="258.45" y="233.95" width="121.70" height="59.30"/>
<rect class="bl" style="stroke-width:3.30" x="789.65" y="96.65" width="121.70" height="60.00"/>
<rect class="pu" style="stroke-width:3.30" x="789.65" y="165.65" width="121.70" height="59.30"/>
<rect class="og" style="stroke-width:3.30" x="789.65" y="233.95" width="121.70" height="59.30"/>
</g>
<text class="lg" transform="translate(400.00 140.00) scale(1.0040 1.0000)">Solar power<tspan class="pn" font-size="31.82" dy="-2.04">（</tspan><tspan dx="5.18" dy="2.04">kW</tspan><tspan class="pn" font-size="31.82" dx="3.70" dy="-2.04">）</tspan></text>
<text class="lg" transform="translate(400.00 208.50) scale(1.0250 1.0000)">Charging pile 1<tspan class="pn" font-size="31.82" dy="-2.04">（</tspan><tspan dx="5.18" dy="2.04">kW</tspan><tspan class="pn" font-size="31.82" dx="3.70" dy="-2.04">）</tspan></text>
<text class="lg" transform="translate(400.00 276.50) scale(1.0250 1.0000)">Charging pile 3<tspan class="pn" font-size="31.82" dy="-2.04">（</tspan><tspan dx="5.18" dy="2.04">kW</tspan><tspan class="pn" font-size="31.82" dx="3.70" dy="-2.04">）</tspan></text>
<text class="lg" transform="translate(931.30 140.00) scale(1.0050 1.0000)">Wind power<tspan class="pn" font-size="31.82" dy="-2.04">（</tspan><tspan dx="5.18" dy="2.04">kW</tspan><tspan class="pn" font-size="31.82" dx="3.70" dy="-2.04">）</tspan></text>
<text class="lg" transform="translate(931.30 208.50) scale(1.0300 1.0000)">Charging pile 2<tspan class="pn" font-size="31.82" dy="-2.04">（</tspan><tspan dx="5.18" dy="2.04">kW</tspan><tspan class="pn" font-size="31.82" dx="3.70" dy="-2.04">）</tspan></text>
<text class="lg" transform="translate(931.30 276.50) scale(1.0270 1.0000)">Rechargeable battery<tspan class="pn" font-size="31.82" dy="-2.04">（</tspan><tspan dx="5.18" dy="2.04">kW</tspan><tspan class="pn" font-size="31.82" dx="3.70" dy="-2.04">）</tspan></text>
</g>
</svg></body></html>
